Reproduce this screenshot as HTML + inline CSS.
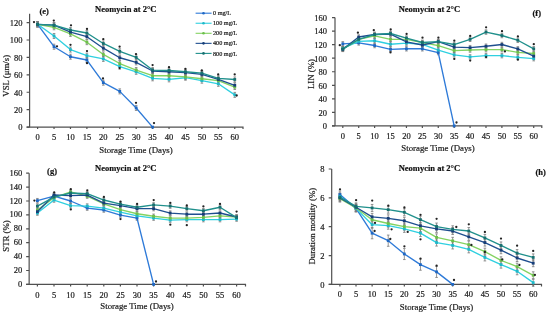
<!DOCTYPE html>
<html><head><meta charset="utf-8"><style>
html,body{margin:0;padding:0;background:#fff;}
svg{display:block;will-change:transform;filter:blur(0.3px);}
text{font-family:"Liberation Serif", serif;fill:#1a1a1a;stroke:#1a1a1a;stroke-width:0.2px;}
.tl{font-size:8.5px;}
.at{font-size:8.8px;}
.ti{font-size:8.5px;font-weight:bold;fill:#111;}
.lg{font-size:6.2px;}
</style></head><body>
<svg width="550" height="315" viewBox="0 0 550 315">
<rect width="550" height="315" fill="#fff"/>
<path d="M29.6 13.87V127.1M26.6 127.1H243.0v2" stroke="#505050" stroke-width="1.2" fill="none"/>
<text x="22.5" y="130.40" text-anchor="end" class="tl">0</text>
<text x="22.5" y="112.98" text-anchor="end" class="tl">20</text>
<text x="22.5" y="95.56" text-anchor="end" class="tl">40</text>
<text x="22.5" y="78.14" text-anchor="end" class="tl">60</text>
<text x="22.5" y="60.72" text-anchor="end" class="tl">80</text>
<text x="22.5" y="43.30" text-anchor="end" class="tl">100</text>
<text x="22.5" y="25.88" text-anchor="end" class="tl">120</text>
<text x="37.60" y="140" text-anchor="middle" class="tl">0</text>
<text x="54.03" y="140" text-anchor="middle" class="tl">5</text>
<text x="70.46" y="140" text-anchor="middle" class="tl">10</text>
<text x="86.89" y="140" text-anchor="middle" class="tl">15</text>
<text x="103.32" y="140" text-anchor="middle" class="tl">20</text>
<text x="119.75" y="140" text-anchor="middle" class="tl">25</text>
<text x="136.18" y="140" text-anchor="middle" class="tl">30</text>
<text x="152.61" y="140" text-anchor="middle" class="tl">35</text>
<text x="169.04" y="140" text-anchor="middle" class="tl">40</text>
<text x="185.47" y="140" text-anchor="middle" class="tl">45</text>
<text x="201.90" y="140" text-anchor="middle" class="tl">50</text>
<text x="218.33" y="140" text-anchor="middle" class="tl">55</text>
<text x="234.76" y="140" text-anchor="middle" class="tl">60</text>
<path d="M26.6 127.10H29.6M26.6 109.68H29.6M26.6 92.26H29.6M26.6 74.84H29.6M26.6 57.42H29.6M26.6 40.00H29.6M26.6 22.58H29.6M37.60 127.1V129.1M54.03 127.1V129.1M70.46 127.1V129.1M86.89 127.1V129.1M103.32 127.1V129.1M119.75 127.1V129.1M136.18 127.1V129.1M152.61 127.1V129.1M169.04 127.1V129.1M185.47 127.1V129.1M201.90 127.1V129.1M218.33 127.1V129.1M234.76 127.1V129.1" stroke="#505050" stroke-width="1.2" fill="none"/>
<path d="M37.60 21.82V26.82M36.30 21.82h2.6M36.30 26.82h2.6M54.03 44.21V49.21M52.73 44.21h2.6M52.73 49.21h2.6M70.46 54.22V59.22M69.16 54.22h2.6M69.16 59.22h2.6M86.89 57.53V62.53M85.59 57.53h2.6M85.59 62.53h2.6M103.32 80.18V85.18M102.02 80.18h2.6M102.02 85.18h2.6M119.75 88.89V93.89M118.45 88.89h2.6M118.45 93.89h2.6M136.18 105.44V110.44M134.88 105.44h2.6M134.88 110.44h2.6M37.60 21.82V26.82M36.30 21.82h2.6M36.30 26.82h2.6M54.03 33.49V38.49M52.73 33.49h2.6M52.73 38.49h2.6M70.46 47.08V52.08M69.16 47.08h2.6M69.16 52.08h2.6M86.89 53.18V58.18M85.59 53.18h2.6M85.59 58.18h2.6M103.32 56.40V61.40M102.02 56.40h2.6M102.02 61.40h2.6M119.75 64.15V69.15M118.45 64.15h2.6M118.45 69.15h2.6M136.18 69.29V74.29M134.88 69.29h2.6M134.88 74.29h2.6M152.61 75.82V80.82M151.31 75.82h2.6M151.31 80.82h2.6M169.04 76.87V81.87M167.74 76.87h2.6M167.74 81.87h2.6M185.47 75.21V80.21M184.17 75.21h2.6M184.17 80.21h2.6M201.90 78.18V83.18M200.60 78.18h2.6M200.60 83.18h2.6M218.33 81.31V86.31M217.03 81.31h2.6M217.03 86.31h2.6M234.76 92.37V97.37M233.46 92.37h2.6M233.46 97.37h2.6M37.60 21.82V26.82M36.30 21.82h2.6M36.30 26.82h2.6M54.03 24.78V29.78M52.73 24.78h2.6M52.73 29.78h2.6M70.46 31.40V36.40M69.16 31.40h2.6M69.16 36.40h2.6M86.89 39.68V44.68M85.59 39.68h2.6M85.59 44.68h2.6M103.32 51.96V56.96M102.02 51.96h2.6M102.02 56.96h2.6M119.75 61.02V66.02M118.45 61.02h2.6M118.45 66.02h2.6M136.18 67.55V72.55M134.88 67.55h2.6M134.88 72.55h2.6M152.61 73.21V78.21M151.31 73.21h2.6M151.31 78.21h2.6M169.04 73.21V78.21M167.74 73.21h2.6M167.74 78.21h2.6M185.47 74.43V79.43M184.17 74.43h2.6M184.17 79.43h2.6M201.90 76.26V81.26M200.60 76.26h2.6M200.60 81.26h2.6M218.33 78.18V83.18M217.03 78.18h2.6M217.03 83.18h2.6M234.76 84.53V89.53M233.46 84.53h2.6M233.46 89.53h2.6M37.60 21.82V26.82M36.30 21.82h2.6M36.30 26.82h2.6M54.03 22.69V27.69M52.73 22.69h2.6M52.73 27.69h2.6M70.46 29.66V34.66M69.16 29.66h2.6M69.16 34.66h2.6M86.89 34.19V39.19M85.59 34.19h2.6M85.59 39.19h2.6M103.32 45.69V50.69M102.02 45.69h2.6M102.02 50.69h2.6M119.75 55.27V60.27M118.45 55.27h2.6M118.45 60.27h2.6M136.18 59.88V64.88M134.88 59.88h2.6M134.88 64.88h2.6M152.61 68.51V73.51M151.31 68.51h2.6M151.31 73.51h2.6M169.04 69.29V74.29M167.74 69.29h2.6M167.74 74.29h2.6M185.47 70.16V75.16M184.17 70.16h2.6M184.17 75.16h2.6M201.90 71.90V76.90M200.60 71.90h2.6M200.60 76.90h2.6M218.33 76.96V81.96M217.03 76.96h2.6M217.03 81.96h2.6M234.76 82.79V87.79M233.46 82.79h2.6M233.46 87.79h2.6M37.60 21.82V26.82M36.30 21.82h2.6M36.30 26.82h2.6M54.03 22.69V27.69M52.73 22.69h2.6M52.73 27.69h2.6M70.46 27.48V32.48M69.16 27.48h2.6M69.16 32.48h2.6M86.89 30.53V35.53M85.59 30.53h2.6M85.59 35.53h2.6M103.32 40.98V45.98M102.02 40.98h2.6M102.02 45.98h2.6M119.75 48.82V53.82M118.45 48.82h2.6M118.45 53.82h2.6M136.18 54.92V59.92M134.88 54.92h2.6M134.88 59.92h2.6M152.61 67.55V72.55M151.31 67.55h2.6M151.31 72.55h2.6M169.04 67.98V72.98M167.74 67.98h2.6M167.74 72.98h2.6M185.47 69.29V74.29M184.17 69.29h2.6M184.17 74.29h2.6M201.90 70.60V75.60M200.60 70.60h2.6M200.60 75.60h2.6M218.33 75.82V80.82M217.03 75.82h2.6M217.03 80.82h2.6M234.76 76.96V81.96M233.46 76.96h2.6M233.46 81.96h2.6" stroke="#7a7a7a" stroke-width="0.8" fill="none"/>
<polyline points="37.60,24.32 54.03,46.71 70.46,56.72 86.89,60.03 103.32,82.68 119.75,91.39 136.18,107.94 152.61,127.10" stroke="#2e7ad8" stroke-width="1.35" fill="none" stroke-linejoin="round"/>
<rect x="36.20" y="22.92" width="2.8" height="2.8" fill="#1f68c4"/>
<rect x="52.63" y="45.31" width="2.8" height="2.8" fill="#1f68c4"/>
<rect x="69.06" y="55.32" width="2.8" height="2.8" fill="#1f68c4"/>
<rect x="85.49" y="58.63" width="2.8" height="2.8" fill="#1f68c4"/>
<rect x="101.92" y="81.28" width="2.8" height="2.8" fill="#1f68c4"/>
<rect x="118.35" y="89.99" width="2.8" height="2.8" fill="#1f68c4"/>
<rect x="134.78" y="106.54" width="2.8" height="2.8" fill="#1f68c4"/>
<rect x="151.21" y="125.70" width="2.8" height="2.8" fill="#1f68c4"/>
<polyline points="37.60,24.32 54.03,35.99 70.46,49.58 86.89,55.68 103.32,58.90 119.75,66.65 136.18,71.79 152.61,78.32 169.04,79.37 185.47,77.71 201.90,80.68 218.33,83.81 234.76,94.87" stroke="#2fd0e0" stroke-width="1.35" fill="none" stroke-linejoin="round"/>
<rect x="36.20" y="22.92" width="2.8" height="2.8" fill="#1fb8c8"/>
<rect x="52.63" y="34.59" width="2.8" height="2.8" fill="#1fb8c8"/>
<rect x="69.06" y="48.18" width="2.8" height="2.8" fill="#1fb8c8"/>
<rect x="85.49" y="54.28" width="2.8" height="2.8" fill="#1fb8c8"/>
<rect x="101.92" y="57.50" width="2.8" height="2.8" fill="#1fb8c8"/>
<rect x="118.35" y="65.25" width="2.8" height="2.8" fill="#1fb8c8"/>
<rect x="134.78" y="70.39" width="2.8" height="2.8" fill="#1fb8c8"/>
<rect x="151.21" y="76.92" width="2.8" height="2.8" fill="#1fb8c8"/>
<rect x="167.64" y="77.97" width="2.8" height="2.8" fill="#1fb8c8"/>
<rect x="184.07" y="76.31" width="2.8" height="2.8" fill="#1fb8c8"/>
<rect x="200.50" y="79.28" width="2.8" height="2.8" fill="#1fb8c8"/>
<rect x="216.93" y="82.41" width="2.8" height="2.8" fill="#1fb8c8"/>
<rect x="233.36" y="93.47" width="2.8" height="2.8" fill="#1fb8c8"/>
<polyline points="37.60,24.32 54.03,27.28 70.46,33.90 86.89,42.18 103.32,54.46 119.75,63.52 136.18,70.05 152.61,75.71 169.04,75.71 185.47,76.93 201.90,78.76 218.33,80.68 234.76,87.03" stroke="#84d262" stroke-width="1.35" fill="none" stroke-linejoin="round"/>
<rect x="36.20" y="22.92" width="2.8" height="2.8" fill="#6cbf4a"/>
<rect x="52.63" y="25.88" width="2.8" height="2.8" fill="#6cbf4a"/>
<rect x="69.06" y="32.50" width="2.8" height="2.8" fill="#6cbf4a"/>
<rect x="85.49" y="40.78" width="2.8" height="2.8" fill="#6cbf4a"/>
<rect x="101.92" y="53.06" width="2.8" height="2.8" fill="#6cbf4a"/>
<rect x="118.35" y="62.12" width="2.8" height="2.8" fill="#6cbf4a"/>
<rect x="134.78" y="68.65" width="2.8" height="2.8" fill="#6cbf4a"/>
<rect x="151.21" y="74.31" width="2.8" height="2.8" fill="#6cbf4a"/>
<rect x="167.64" y="74.31" width="2.8" height="2.8" fill="#6cbf4a"/>
<rect x="184.07" y="75.53" width="2.8" height="2.8" fill="#6cbf4a"/>
<rect x="200.50" y="77.36" width="2.8" height="2.8" fill="#6cbf4a"/>
<rect x="216.93" y="79.28" width="2.8" height="2.8" fill="#6cbf4a"/>
<rect x="233.36" y="85.63" width="2.8" height="2.8" fill="#6cbf4a"/>
<polyline points="37.60,24.32 54.03,25.19 70.46,32.16 86.89,36.69 103.32,48.19 119.75,57.77 136.18,62.38 152.61,71.01 169.04,71.79 185.47,72.66 201.90,74.40 218.33,79.46 234.76,85.29" stroke="#1f4f8f" stroke-width="1.35" fill="none" stroke-linejoin="round"/>
<rect x="36.20" y="22.92" width="2.8" height="2.8" fill="#173e78"/>
<rect x="52.63" y="23.79" width="2.8" height="2.8" fill="#173e78"/>
<rect x="69.06" y="30.76" width="2.8" height="2.8" fill="#173e78"/>
<rect x="85.49" y="35.29" width="2.8" height="2.8" fill="#173e78"/>
<rect x="101.92" y="46.79" width="2.8" height="2.8" fill="#173e78"/>
<rect x="118.35" y="56.37" width="2.8" height="2.8" fill="#173e78"/>
<rect x="134.78" y="60.98" width="2.8" height="2.8" fill="#173e78"/>
<rect x="151.21" y="69.61" width="2.8" height="2.8" fill="#173e78"/>
<rect x="167.64" y="70.39" width="2.8" height="2.8" fill="#173e78"/>
<rect x="184.07" y="71.26" width="2.8" height="2.8" fill="#173e78"/>
<rect x="200.50" y="73.00" width="2.8" height="2.8" fill="#173e78"/>
<rect x="216.93" y="78.06" width="2.8" height="2.8" fill="#173e78"/>
<rect x="233.36" y="83.89" width="2.8" height="2.8" fill="#173e78"/>
<polyline points="37.60,24.32 54.03,25.19 70.46,29.98 86.89,33.03 103.32,43.48 119.75,51.32 136.18,57.42 152.61,70.05 169.04,70.48 185.47,71.79 201.90,73.10 218.33,78.32 234.76,79.46" stroke="#20908c" stroke-width="1.35" fill="none" stroke-linejoin="round"/>
<rect x="36.20" y="22.92" width="2.8" height="2.8" fill="#176f6f"/>
<rect x="52.63" y="23.79" width="2.8" height="2.8" fill="#176f6f"/>
<rect x="69.06" y="28.58" width="2.8" height="2.8" fill="#176f6f"/>
<rect x="85.49" y="31.63" width="2.8" height="2.8" fill="#176f6f"/>
<rect x="101.92" y="42.08" width="2.8" height="2.8" fill="#176f6f"/>
<rect x="118.35" y="49.92" width="2.8" height="2.8" fill="#176f6f"/>
<rect x="134.78" y="56.02" width="2.8" height="2.8" fill="#176f6f"/>
<rect x="151.21" y="68.65" width="2.8" height="2.8" fill="#176f6f"/>
<rect x="167.64" y="69.08" width="2.8" height="2.8" fill="#176f6f"/>
<rect x="184.07" y="70.39" width="2.8" height="2.8" fill="#176f6f"/>
<rect x="200.50" y="71.70" width="2.8" height="2.8" fill="#176f6f"/>
<rect x="216.93" y="76.92" width="2.8" height="2.8" fill="#176f6f"/>
<rect x="233.36" y="78.06" width="2.8" height="2.8" fill="#176f6f"/>
<circle cx="34" cy="22.1" r="1.15" fill="#222"/>
<circle cx="53.8" cy="20.6" r="1.15" fill="#222"/>
<circle cx="57" cy="46.3" r="1.15" fill="#222"/>
<circle cx="71" cy="25.3" r="1.15" fill="#222"/>
<circle cx="70.5" cy="44.8" r="1.15" fill="#222"/>
<circle cx="87" cy="28.9" r="1.15" fill="#222"/>
<circle cx="87" cy="51.1" r="1.15" fill="#222"/>
<circle cx="87" cy="63.2" r="1.15" fill="#222"/>
<circle cx="103.3" cy="39.2" r="1.15" fill="#222"/>
<circle cx="103" cy="78.4" r="1.15" fill="#222"/>
<circle cx="119.6" cy="46.7" r="1.15" fill="#222"/>
<circle cx="119.6" cy="68.1" r="1.15" fill="#222"/>
<circle cx="136" cy="54.1" r="1.15" fill="#222"/>
<circle cx="136" cy="102.8" r="1.15" fill="#222"/>
<circle cx="152.6" cy="65.1" r="1.15" fill="#222"/>
<circle cx="154" cy="123.1" r="1.15" fill="#222"/>
<circle cx="169" cy="67.2" r="1.15" fill="#222"/>
<circle cx="185.4" cy="68.8" r="1.15" fill="#222"/>
<circle cx="201.8" cy="70.4" r="1.15" fill="#222"/>
<circle cx="218.2" cy="74.4" r="1.15" fill="#222"/>
<circle cx="234.7" cy="74.4" r="1.15" fill="#222"/>
<circle cx="236.7" cy="95.5" r="1.15" fill="#222"/>
<text x="95" y="12.3" class="ti">Neomycin at 2°C</text>
<text x="39.5" y="13.6" class="ti">(e)</text>
<text transform="translate(9.0,75.8) rotate(-90)" text-anchor="middle" class="at">VSL (μm/s)</text>
<text x="136" y="152.5" text-anchor="middle" class="at">Storage Time (Days)</text>
<path d="M335.0 17.58V125.9M332.0 125.9H541.8v2" stroke="#505050" stroke-width="1.2" fill="none"/>
<text x="327" y="129.20" text-anchor="end" class="tl">0</text>
<text x="327" y="115.66" text-anchor="end" class="tl">20</text>
<text x="327" y="102.12" text-anchor="end" class="tl">40</text>
<text x="327" y="88.58" text-anchor="end" class="tl">60</text>
<text x="327" y="75.04" text-anchor="end" class="tl">80</text>
<text x="327" y="61.50" text-anchor="end" class="tl">100</text>
<text x="327" y="47.96" text-anchor="end" class="tl">120</text>
<text x="327" y="34.42" text-anchor="end" class="tl">140</text>
<text x="327" y="20.88" text-anchor="end" class="tl">160</text>
<text x="342.80" y="139.2" text-anchor="middle" class="tl">0</text>
<text x="358.71" y="139.2" text-anchor="middle" class="tl">5</text>
<text x="374.62" y="139.2" text-anchor="middle" class="tl">10</text>
<text x="390.53" y="139.2" text-anchor="middle" class="tl">15</text>
<text x="406.44" y="139.2" text-anchor="middle" class="tl">20</text>
<text x="422.35" y="139.2" text-anchor="middle" class="tl">25</text>
<text x="438.26" y="139.2" text-anchor="middle" class="tl">30</text>
<text x="454.17" y="139.2" text-anchor="middle" class="tl">35</text>
<text x="470.08" y="139.2" text-anchor="middle" class="tl">40</text>
<text x="485.99" y="139.2" text-anchor="middle" class="tl">45</text>
<text x="501.90" y="139.2" text-anchor="middle" class="tl">50</text>
<text x="517.81" y="139.2" text-anchor="middle" class="tl">55</text>
<text x="533.72" y="139.2" text-anchor="middle" class="tl">60</text>
<path d="M332.0 125.90H335.0M332.0 112.36H335.0M332.0 98.82H335.0M332.0 85.28H335.0M332.0 71.74H335.0M332.0 58.20H335.0M332.0 44.66H335.0M332.0 31.12H335.0M332.0 17.58H335.0M342.80 125.9V127.9M358.71 125.9V127.9M374.62 125.9V127.9M390.53 125.9V127.9M406.44 125.9V127.9M422.35 125.9V127.9M438.26 125.9V127.9M454.17 125.9V127.9M470.08 125.9V127.9M485.99 125.9V127.9M501.90 125.9V127.9M517.81 125.9V127.9M533.72 125.9V127.9" stroke="#505050" stroke-width="1.2" fill="none"/>
<path d="M342.80 41.65V46.05M341.50 41.65h2.6M341.50 46.05h2.6M358.71 40.70V45.10M357.41 40.70h2.6M357.41 45.10h2.6M374.62 43.34V47.74M373.32 43.34h2.6M373.32 47.74h2.6M390.53 47.13V51.53M389.23 47.13h2.6M389.23 51.53h2.6M406.44 46.59V50.99M405.14 46.59h2.6M405.14 50.99h2.6M422.35 46.59V50.99M421.05 46.59h2.6M421.05 50.99h2.6M438.26 50.38V54.78M436.96 50.38h2.6M436.96 54.78h2.6M342.80 46.18V50.58M341.50 46.18h2.6M341.50 50.58h2.6M358.71 39.14V43.54M357.41 39.14h2.6M357.41 43.54h2.6M374.62 38.53V42.93M373.32 38.53h2.6M373.32 42.93h2.6M390.53 42.05V46.45M389.23 42.05h2.6M389.23 46.45h2.6M406.44 40.90V45.30M405.14 40.90h2.6M405.14 45.30h2.6M422.35 42.12V46.52M421.05 42.12h2.6M421.05 46.52h2.6M438.26 47.88V52.28M436.96 47.88h2.6M436.96 52.28h2.6M454.17 52.61V57.02M452.87 52.61h2.6M452.87 57.02h2.6M470.08 54.71V59.11M468.78 54.71h2.6M468.78 59.11h2.6M485.99 53.43V57.83M484.69 53.43h2.6M484.69 57.83h2.6M501.90 53.43V57.83M500.60 53.43h2.6M500.60 57.83h2.6M517.81 55.19V59.59M516.51 55.19h2.6M516.51 59.59h2.6M533.72 56.47V60.87M532.42 56.47h2.6M532.42 60.87h2.6M342.80 46.86V51.26M341.50 46.86h2.6M341.50 51.26h2.6M358.71 37.25V41.65M357.41 37.25h2.6M357.41 41.65h2.6M374.62 33.66V38.06M373.32 33.66h2.6M373.32 38.06h2.6M390.53 37.11V41.51M389.23 37.11h2.6M389.23 41.51h2.6M406.44 37.11V41.51M405.14 37.11h2.6M405.14 41.51h2.6M422.35 40.29V44.69M421.05 40.29h2.6M421.05 44.69h2.6M438.26 43.41V47.81M436.96 43.41h2.6M436.96 47.81h2.6M454.17 48.35V52.75M452.87 48.35h2.6M452.87 52.75h2.6M470.08 47.81V52.21M468.78 47.81h2.6M468.78 52.21h2.6M485.99 47.47V51.87M484.69 47.47h2.6M484.69 51.87h2.6M501.90 47.47V51.87M500.60 47.47h2.6M500.60 51.87h2.6M517.81 50.11V54.51M516.51 50.11h2.6M516.51 54.51h2.6M533.72 51.26V55.66M532.42 51.26h2.6M532.42 55.66h2.6M342.80 47.20V51.60M341.50 47.20h2.6M341.50 51.60h2.6M358.71 34.81V39.21M357.41 34.81h2.6M357.41 39.21h2.6M374.62 32.30V36.70M373.32 32.30h2.6M373.32 36.70h2.6M390.53 31.83V36.23M389.23 31.83h2.6M389.23 36.23h2.6M406.44 39.62V44.02M405.14 39.62h2.6M405.14 44.02h2.6M422.35 42.80V47.20M421.05 42.80h2.6M421.05 47.20h2.6M438.26 39.41V43.81M436.96 39.41h2.6M436.96 43.81h2.6M454.17 44.90V49.30M452.87 44.90h2.6M452.87 49.30h2.6M470.08 45.44V49.84M468.78 45.44h2.6M468.78 49.84h2.6M485.99 44.02V48.42M484.69 44.02h2.6M484.69 48.42h2.6M501.90 42.32V46.72M500.60 42.32h2.6M500.60 46.72h2.6M517.81 46.66V51.06M516.51 46.66h2.6M516.51 51.06h2.6M533.72 53.97V58.37M532.42 53.97h2.6M532.42 58.37h2.6M342.80 46.73V51.13M341.50 46.73h2.6M341.50 51.13h2.6M358.71 37.11V41.51M357.41 37.11h2.6M357.41 41.51h2.6M374.62 32.30V36.70M373.32 32.30h2.6M373.32 36.70h2.6M390.53 31.29V35.69M389.23 31.29h2.6M389.23 35.69h2.6M406.44 35.83V40.23M405.14 35.83h2.6M405.14 40.23h2.6M422.35 40.29V44.69M421.05 40.29h2.6M421.05 44.69h2.6M438.26 39.41V43.81M436.96 39.41h2.6M436.96 43.81h2.6M454.17 42.32V46.72M452.87 42.32h2.6M452.87 46.72h2.6M470.08 37.11V41.51M468.78 37.11h2.6M468.78 41.51h2.6M485.99 29.87V34.27M484.69 29.87h2.6M484.69 34.27h2.6M501.90 33.32V37.72M500.60 33.32h2.6M500.60 37.72h2.6M517.81 38.06V42.46M516.51 38.06h2.6M516.51 42.46h2.6M533.72 46.59V50.99M532.42 46.59h2.6M532.42 50.99h2.6" stroke="#7a7a7a" stroke-width="0.8" fill="none"/>
<polyline points="342.80,43.85 358.71,42.90 374.62,45.54 390.53,49.33 406.44,48.79 422.35,48.79 438.26,52.58 454.17,125.90" stroke="#2e7ad8" stroke-width="1.35" fill="none" stroke-linejoin="round"/>
<rect x="341.40" y="42.45" width="2.8" height="2.8" fill="#1f68c4"/>
<rect x="357.31" y="41.50" width="2.8" height="2.8" fill="#1f68c4"/>
<rect x="373.22" y="44.14" width="2.8" height="2.8" fill="#1f68c4"/>
<rect x="389.13" y="47.93" width="2.8" height="2.8" fill="#1f68c4"/>
<rect x="405.04" y="47.39" width="2.8" height="2.8" fill="#1f68c4"/>
<rect x="420.95" y="47.39" width="2.8" height="2.8" fill="#1f68c4"/>
<rect x="436.86" y="51.18" width="2.8" height="2.8" fill="#1f68c4"/>
<rect x="452.77" y="124.50" width="2.8" height="2.8" fill="#1f68c4"/>
<polyline points="342.80,48.38 358.71,41.34 374.62,40.73 390.53,44.25 406.44,43.10 422.35,44.32 438.26,50.08 454.17,54.81 470.08,56.91 485.99,55.63 501.90,55.63 517.81,57.39 533.72,58.67" stroke="#2fd0e0" stroke-width="1.35" fill="none" stroke-linejoin="round"/>
<rect x="341.40" y="46.98" width="2.8" height="2.8" fill="#1fb8c8"/>
<rect x="357.31" y="39.94" width="2.8" height="2.8" fill="#1fb8c8"/>
<rect x="373.22" y="39.33" width="2.8" height="2.8" fill="#1fb8c8"/>
<rect x="389.13" y="42.85" width="2.8" height="2.8" fill="#1fb8c8"/>
<rect x="405.04" y="41.70" width="2.8" height="2.8" fill="#1fb8c8"/>
<rect x="420.95" y="42.92" width="2.8" height="2.8" fill="#1fb8c8"/>
<rect x="436.86" y="48.68" width="2.8" height="2.8" fill="#1fb8c8"/>
<rect x="452.77" y="53.41" width="2.8" height="2.8" fill="#1fb8c8"/>
<rect x="468.68" y="55.51" width="2.8" height="2.8" fill="#1fb8c8"/>
<rect x="484.59" y="54.23" width="2.8" height="2.8" fill="#1fb8c8"/>
<rect x="500.50" y="54.23" width="2.8" height="2.8" fill="#1fb8c8"/>
<rect x="516.41" y="55.99" width="2.8" height="2.8" fill="#1fb8c8"/>
<rect x="532.32" y="57.27" width="2.8" height="2.8" fill="#1fb8c8"/>
<polyline points="342.80,49.06 358.71,39.45 374.62,35.86 390.53,39.31 406.44,39.31 422.35,42.49 438.26,45.61 454.17,50.55 470.08,50.01 485.99,49.67 501.90,49.67 517.81,52.31 533.72,53.46" stroke="#84d262" stroke-width="1.35" fill="none" stroke-linejoin="round"/>
<rect x="341.40" y="47.66" width="2.8" height="2.8" fill="#6cbf4a"/>
<rect x="357.31" y="38.05" width="2.8" height="2.8" fill="#6cbf4a"/>
<rect x="373.22" y="34.46" width="2.8" height="2.8" fill="#6cbf4a"/>
<rect x="389.13" y="37.91" width="2.8" height="2.8" fill="#6cbf4a"/>
<rect x="405.04" y="37.91" width="2.8" height="2.8" fill="#6cbf4a"/>
<rect x="420.95" y="41.09" width="2.8" height="2.8" fill="#6cbf4a"/>
<rect x="436.86" y="44.21" width="2.8" height="2.8" fill="#6cbf4a"/>
<rect x="452.77" y="49.15" width="2.8" height="2.8" fill="#6cbf4a"/>
<rect x="468.68" y="48.61" width="2.8" height="2.8" fill="#6cbf4a"/>
<rect x="484.59" y="48.27" width="2.8" height="2.8" fill="#6cbf4a"/>
<rect x="500.50" y="48.27" width="2.8" height="2.8" fill="#6cbf4a"/>
<rect x="516.41" y="50.91" width="2.8" height="2.8" fill="#6cbf4a"/>
<rect x="532.32" y="52.06" width="2.8" height="2.8" fill="#6cbf4a"/>
<polyline points="342.80,49.40 358.71,37.01 374.62,34.50 390.53,34.03 406.44,41.82 422.35,45.00 438.26,41.61 454.17,47.10 470.08,47.64 485.99,46.22 501.90,44.52 517.81,48.86 533.72,56.17" stroke="#1f4f8f" stroke-width="1.35" fill="none" stroke-linejoin="round"/>
<rect x="341.40" y="48.00" width="2.8" height="2.8" fill="#173e78"/>
<rect x="357.31" y="35.61" width="2.8" height="2.8" fill="#173e78"/>
<rect x="373.22" y="33.10" width="2.8" height="2.8" fill="#173e78"/>
<rect x="389.13" y="32.63" width="2.8" height="2.8" fill="#173e78"/>
<rect x="405.04" y="40.42" width="2.8" height="2.8" fill="#173e78"/>
<rect x="420.95" y="43.60" width="2.8" height="2.8" fill="#173e78"/>
<rect x="436.86" y="40.21" width="2.8" height="2.8" fill="#173e78"/>
<rect x="452.77" y="45.70" width="2.8" height="2.8" fill="#173e78"/>
<rect x="468.68" y="46.24" width="2.8" height="2.8" fill="#173e78"/>
<rect x="484.59" y="44.82" width="2.8" height="2.8" fill="#173e78"/>
<rect x="500.50" y="43.12" width="2.8" height="2.8" fill="#173e78"/>
<rect x="516.41" y="47.46" width="2.8" height="2.8" fill="#173e78"/>
<rect x="532.32" y="54.77" width="2.8" height="2.8" fill="#173e78"/>
<polyline points="342.80,48.93 358.71,39.31 374.62,34.50 390.53,33.49 406.44,38.03 422.35,42.49 438.26,41.61 454.17,44.52 470.08,39.31 485.99,32.07 501.90,35.52 517.81,40.26 533.72,48.79" stroke="#20908c" stroke-width="1.35" fill="none" stroke-linejoin="round"/>
<rect x="341.40" y="47.53" width="2.8" height="2.8" fill="#176f6f"/>
<rect x="357.31" y="37.91" width="2.8" height="2.8" fill="#176f6f"/>
<rect x="373.22" y="33.10" width="2.8" height="2.8" fill="#176f6f"/>
<rect x="389.13" y="32.09" width="2.8" height="2.8" fill="#176f6f"/>
<rect x="405.04" y="36.63" width="2.8" height="2.8" fill="#176f6f"/>
<rect x="420.95" y="41.09" width="2.8" height="2.8" fill="#176f6f"/>
<rect x="436.86" y="40.21" width="2.8" height="2.8" fill="#176f6f"/>
<rect x="452.77" y="43.12" width="2.8" height="2.8" fill="#176f6f"/>
<rect x="468.68" y="37.91" width="2.8" height="2.8" fill="#176f6f"/>
<rect x="484.59" y="30.67" width="2.8" height="2.8" fill="#176f6f"/>
<rect x="500.50" y="34.12" width="2.8" height="2.8" fill="#176f6f"/>
<rect x="516.41" y="38.86" width="2.8" height="2.8" fill="#176f6f"/>
<rect x="532.32" y="47.39" width="2.8" height="2.8" fill="#176f6f"/>
<circle cx="339.8" cy="45.2" r="1.15" fill="#222"/>
<circle cx="357.9" cy="32.7" r="1.15" fill="#222"/>
<circle cx="373.8" cy="30.2" r="1.15" fill="#222"/>
<circle cx="390.7" cy="29.5" r="1.15" fill="#222"/>
<circle cx="390.5" cy="52.4" r="1.15" fill="#222"/>
<circle cx="406.6" cy="33.9" r="1.15" fill="#222"/>
<circle cx="422.5" cy="37.7" r="1.15" fill="#222"/>
<circle cx="438.4" cy="37.7" r="1.15" fill="#222"/>
<circle cx="454.3" cy="40.7" r="1.15" fill="#222"/>
<circle cx="454.3" cy="58.9" r="1.15" fill="#222"/>
<circle cx="470.2" cy="35.9" r="1.15" fill="#222"/>
<circle cx="470.2" cy="60.6" r="1.15" fill="#222"/>
<circle cx="486.1" cy="27.3" r="1.15" fill="#222"/>
<circle cx="486.1" cy="57.1" r="1.15" fill="#222"/>
<circle cx="502" cy="31.2" r="1.15" fill="#222"/>
<circle cx="504.9" cy="51.4" r="1.15" fill="#222"/>
<circle cx="517.9" cy="36.4" r="1.15" fill="#222"/>
<circle cx="517.9" cy="59.7" r="1.15" fill="#222"/>
<circle cx="533.8" cy="44.2" r="1.15" fill="#222"/>
<circle cx="456.5" cy="122.5" r="1.15" fill="#222"/>
<text x="398.7" y="11.9" class="ti">Neomycin at 2°C</text>
<text x="532.5" y="16.3" class="ti">(f)</text>
<text transform="translate(313.8,74) rotate(-90)" text-anchor="middle" class="at">LIN (%)</text>
<text x="438" y="151.4" text-anchor="middle" class="at">Storage Time (Days)</text>
<path d="M29.15 173.20V284.4M26.15 284.4H245.5v2" stroke="#505050" stroke-width="1.2" fill="none"/>
<text x="22.2" y="286.90" text-anchor="end" class="tl">0</text>
<text x="22.2" y="273.00" text-anchor="end" class="tl">20</text>
<text x="22.2" y="259.10" text-anchor="end" class="tl">40</text>
<text x="22.2" y="245.20" text-anchor="end" class="tl">60</text>
<text x="22.2" y="231.30" text-anchor="end" class="tl">80</text>
<text x="22.2" y="217.40" text-anchor="end" class="tl">100</text>
<text x="22.2" y="203.50" text-anchor="end" class="tl">120</text>
<text x="22.2" y="189.60" text-anchor="end" class="tl">140</text>
<text x="22.2" y="175.70" text-anchor="end" class="tl">160</text>
<text x="37.40" y="297.8" text-anchor="middle" class="tl">0</text>
<text x="54.00" y="297.8" text-anchor="middle" class="tl">5</text>
<text x="70.60" y="297.8" text-anchor="middle" class="tl">10</text>
<text x="87.20" y="297.8" text-anchor="middle" class="tl">15</text>
<text x="103.80" y="297.8" text-anchor="middle" class="tl">20</text>
<text x="120.40" y="297.8" text-anchor="middle" class="tl">25</text>
<text x="137.00" y="297.8" text-anchor="middle" class="tl">30</text>
<text x="153.60" y="297.8" text-anchor="middle" class="tl">35</text>
<text x="170.20" y="297.8" text-anchor="middle" class="tl">40</text>
<text x="186.80" y="297.8" text-anchor="middle" class="tl">45</text>
<text x="203.40" y="297.8" text-anchor="middle" class="tl">50</text>
<text x="220.00" y="297.8" text-anchor="middle" class="tl">55</text>
<text x="236.60" y="297.8" text-anchor="middle" class="tl">60</text>
<path d="M26.15 284.40H29.15M26.15 270.50H29.15M26.15 256.60H29.15M26.15 242.70H29.15M26.15 228.80H29.15M26.15 214.90H29.15M26.15 201.00H29.15M26.15 187.10H29.15M26.15 173.20H29.15M37.40 284.4V286.4M54.00 284.4V286.4M70.60 284.4V286.4M87.20 284.4V286.4M103.80 284.4V286.4M120.40 284.4V286.4M137.00 284.4V286.4M153.60 284.4V286.4M170.20 284.4V286.4M186.80 284.4V286.4M203.40 284.4V286.4M220.00 284.4V286.4M236.60 284.4V286.4" stroke="#505050" stroke-width="1.2" fill="none"/>
<path d="M37.40 198.45V202.85M36.10 198.45h2.6M36.10 202.85h2.6M54.00 193.94V198.33M52.70 193.94h2.6M52.70 198.33h2.6M70.60 198.80V203.20M69.30 198.80h2.6M69.30 203.20h2.6M87.20 205.89V210.29M85.90 205.89h2.6M85.90 210.29h2.6M103.80 207.83V212.23M102.50 207.83h2.6M102.50 212.23h2.6M120.40 212.91V217.31M119.10 212.91h2.6M119.10 217.31h2.6M137.00 215.90V220.30M135.70 215.90h2.6M135.70 220.30h2.6M37.40 210.89V215.29M36.10 210.89h2.6M36.10 215.29h2.6M54.00 197.83V202.23M52.70 197.83h2.6M52.70 202.23h2.6M70.60 203.46V207.86M69.30 203.46h2.6M69.30 207.86h2.6M87.20 203.87V208.27M85.90 203.87h2.6M85.90 208.27h2.6M103.80 205.89V210.29M102.50 205.89h2.6M102.50 210.29h2.6M120.40 209.92V214.32M119.10 209.92h2.6M119.10 214.32h2.6M137.00 213.60V218.00M135.70 213.60h2.6M135.70 218.00h2.6M153.60 215.90V220.30M152.30 215.90h2.6M152.30 220.30h2.6M170.20 217.91V222.31M168.90 217.91h2.6M168.90 222.31h2.6M186.80 217.43V221.83M185.50 217.43h2.6M185.50 221.83h2.6M203.40 217.43V221.83M202.10 217.43h2.6M202.10 221.83h2.6M220.00 217.43V221.83M218.70 217.43h2.6M218.70 221.83h2.6M236.60 216.87V221.27M235.30 216.87h2.6M235.30 221.27h2.6M37.40 207.83V212.23M36.10 207.83h2.6M36.10 212.23h2.6M54.00 195.39V199.79M52.70 195.39h2.6M52.70 199.79h2.6M70.60 189.76V194.16M69.30 189.76h2.6M69.30 194.16h2.6M87.20 193.94V198.33M85.90 193.94h2.6M85.90 198.33h2.6M103.80 201.58V205.98M102.50 201.58h2.6M102.50 205.98h2.6M120.40 207.49V211.89M119.10 207.49h2.6M119.10 211.89h2.6M137.00 211.52V215.92M135.70 211.52h2.6M135.70 215.92h2.6M153.60 214.09V218.49M152.30 214.09h2.6M152.30 218.49h2.6M170.20 215.90V220.30M168.90 215.90h2.6M168.90 220.30h2.6M186.80 215.90V220.30M185.50 215.90h2.6M185.50 220.30h2.6M203.40 215.20V219.60M202.10 215.20h2.6M202.10 219.60h2.6M220.00 213.60V218.00M218.70 213.60h2.6M218.70 218.00h2.6M236.60 214.78V219.18M235.30 214.78h2.6M235.30 219.18h2.6M37.40 209.50V213.90M36.10 209.50h2.6M36.10 213.90h2.6M54.00 192.82V197.22M52.70 192.82h2.6M52.70 197.22h2.6M70.60 193.45V197.85M69.30 193.45h2.6M69.30 197.85h2.6M87.20 192.82V197.22M85.90 192.82h2.6M85.90 197.22h2.6M103.80 200.88V205.28M102.50 200.88h2.6M102.50 205.28h2.6M120.40 203.46V207.86M119.10 203.46h2.6M119.10 207.86h2.6M137.00 206.44V210.84M135.70 206.44h2.6M135.70 210.84h2.6M153.60 206.44V210.84M152.30 206.44h2.6M152.30 210.84h2.6M170.20 210.89V215.29M168.90 210.89h2.6M168.90 215.29h2.6M186.80 212.00V216.40M185.50 212.00h2.6M185.50 216.40h2.6M203.40 212.00V216.40M202.10 212.00h2.6M202.10 216.40h2.6M220.00 210.82V215.22M218.70 210.82h2.6M218.70 215.22h2.6M236.60 214.78V219.18M235.30 214.78h2.6M235.30 219.18h2.6M37.40 203.87V208.27M36.10 203.87h2.6M36.10 208.27h2.6M54.00 194.84V199.24M52.70 194.84h2.6M52.70 199.24h2.6M70.60 190.81V195.21M69.30 190.81h2.6M69.30 195.21h2.6M87.20 191.43V195.83M85.90 191.43h2.6M85.90 195.83h2.6M103.80 197.83V202.23M102.50 197.83h2.6M102.50 202.23h2.6M120.40 201.86V206.26M119.10 201.86h2.6M119.10 206.26h2.6M137.00 205.06V209.45M135.70 205.06h2.6M135.70 209.45h2.6M153.60 202.69V207.09M152.30 202.69h2.6M152.30 207.09h2.6M170.20 203.87V208.27M168.90 203.87h2.6M168.90 208.27h2.6M186.80 206.44V210.84M185.50 206.44h2.6M185.50 210.84h2.6M203.40 208.53V212.93M202.10 208.53h2.6M202.10 212.93h2.6M220.00 205.06V209.45M218.70 205.06h2.6M218.70 209.45h2.6M236.60 215.48V219.88M235.30 215.48h2.6M235.30 219.88h2.6" stroke="#7a7a7a" stroke-width="0.8" fill="none"/>
<polyline points="37.40,200.65 54.00,196.13 70.60,201.00 87.20,208.09 103.80,210.03 120.40,215.11 137.00,218.10 153.60,284.40" stroke="#2e7ad8" stroke-width="1.35" fill="none" stroke-linejoin="round"/>
<rect x="36.00" y="199.25" width="2.8" height="2.8" fill="#1f68c4"/>
<rect x="52.60" y="194.73" width="2.8" height="2.8" fill="#1f68c4"/>
<rect x="69.20" y="199.60" width="2.8" height="2.8" fill="#1f68c4"/>
<rect x="85.80" y="206.69" width="2.8" height="2.8" fill="#1f68c4"/>
<rect x="102.40" y="208.63" width="2.8" height="2.8" fill="#1f68c4"/>
<rect x="119.00" y="213.71" width="2.8" height="2.8" fill="#1f68c4"/>
<rect x="135.60" y="216.70" width="2.8" height="2.8" fill="#1f68c4"/>
<rect x="152.20" y="283.00" width="2.8" height="2.8" fill="#1f68c4"/>
<polyline points="37.40,213.09 54.00,200.03 70.60,205.66 87.20,206.07 103.80,208.09 120.40,212.12 137.00,215.80 153.60,218.10 170.20,220.11 186.80,219.63 203.40,219.63 220.00,219.63 236.60,219.07" stroke="#2fd0e0" stroke-width="1.35" fill="none" stroke-linejoin="round"/>
<rect x="36.00" y="211.69" width="2.8" height="2.8" fill="#1fb8c8"/>
<rect x="52.60" y="198.63" width="2.8" height="2.8" fill="#1fb8c8"/>
<rect x="69.20" y="204.26" width="2.8" height="2.8" fill="#1fb8c8"/>
<rect x="85.80" y="204.67" width="2.8" height="2.8" fill="#1fb8c8"/>
<rect x="102.40" y="206.69" width="2.8" height="2.8" fill="#1fb8c8"/>
<rect x="119.00" y="210.72" width="2.8" height="2.8" fill="#1fb8c8"/>
<rect x="135.60" y="214.40" width="2.8" height="2.8" fill="#1fb8c8"/>
<rect x="152.20" y="216.70" width="2.8" height="2.8" fill="#1fb8c8"/>
<rect x="168.80" y="218.71" width="2.8" height="2.8" fill="#1fb8c8"/>
<rect x="185.40" y="218.23" width="2.8" height="2.8" fill="#1fb8c8"/>
<rect x="202.00" y="218.23" width="2.8" height="2.8" fill="#1fb8c8"/>
<rect x="218.60" y="218.23" width="2.8" height="2.8" fill="#1fb8c8"/>
<rect x="235.20" y="217.67" width="2.8" height="2.8" fill="#1fb8c8"/>
<polyline points="37.40,210.03 54.00,197.59 70.60,191.96 87.20,196.13 103.80,203.78 120.40,209.69 137.00,213.72 153.60,216.29 170.20,218.10 186.80,218.10 203.40,217.40 220.00,215.80 236.60,216.98" stroke="#84d262" stroke-width="1.35" fill="none" stroke-linejoin="round"/>
<rect x="36.00" y="208.63" width="2.8" height="2.8" fill="#6cbf4a"/>
<rect x="52.60" y="196.19" width="2.8" height="2.8" fill="#6cbf4a"/>
<rect x="69.20" y="190.56" width="2.8" height="2.8" fill="#6cbf4a"/>
<rect x="85.80" y="194.73" width="2.8" height="2.8" fill="#6cbf4a"/>
<rect x="102.40" y="202.38" width="2.8" height="2.8" fill="#6cbf4a"/>
<rect x="119.00" y="208.29" width="2.8" height="2.8" fill="#6cbf4a"/>
<rect x="135.60" y="212.32" width="2.8" height="2.8" fill="#6cbf4a"/>
<rect x="152.20" y="214.89" width="2.8" height="2.8" fill="#6cbf4a"/>
<rect x="168.80" y="216.70" width="2.8" height="2.8" fill="#6cbf4a"/>
<rect x="185.40" y="216.70" width="2.8" height="2.8" fill="#6cbf4a"/>
<rect x="202.00" y="216.00" width="2.8" height="2.8" fill="#6cbf4a"/>
<rect x="218.60" y="214.40" width="2.8" height="2.8" fill="#6cbf4a"/>
<rect x="235.20" y="215.58" width="2.8" height="2.8" fill="#6cbf4a"/>
<polyline points="37.40,211.70 54.00,195.02 70.60,195.65 87.20,195.02 103.80,203.08 120.40,205.66 137.00,208.64 153.60,208.64 170.20,213.09 186.80,214.20 203.40,214.20 220.00,213.02 236.60,216.98" stroke="#1f4f8f" stroke-width="1.35" fill="none" stroke-linejoin="round"/>
<rect x="36.00" y="210.30" width="2.8" height="2.8" fill="#173e78"/>
<rect x="52.60" y="193.62" width="2.8" height="2.8" fill="#173e78"/>
<rect x="69.20" y="194.25" width="2.8" height="2.8" fill="#173e78"/>
<rect x="85.80" y="193.62" width="2.8" height="2.8" fill="#173e78"/>
<rect x="102.40" y="201.68" width="2.8" height="2.8" fill="#173e78"/>
<rect x="119.00" y="204.26" width="2.8" height="2.8" fill="#173e78"/>
<rect x="135.60" y="207.24" width="2.8" height="2.8" fill="#173e78"/>
<rect x="152.20" y="207.24" width="2.8" height="2.8" fill="#173e78"/>
<rect x="168.80" y="211.69" width="2.8" height="2.8" fill="#173e78"/>
<rect x="185.40" y="212.80" width="2.8" height="2.8" fill="#173e78"/>
<rect x="202.00" y="212.80" width="2.8" height="2.8" fill="#173e78"/>
<rect x="218.60" y="211.62" width="2.8" height="2.8" fill="#173e78"/>
<rect x="235.20" y="215.58" width="2.8" height="2.8" fill="#173e78"/>
<polyline points="37.40,206.07 54.00,197.04 70.60,193.01 87.20,193.63 103.80,200.03 120.40,204.06 137.00,207.25 153.60,204.89 170.20,206.07 186.80,208.64 203.40,210.73 220.00,207.25 236.60,217.68" stroke="#20908c" stroke-width="1.35" fill="none" stroke-linejoin="round"/>
<rect x="36.00" y="204.67" width="2.8" height="2.8" fill="#176f6f"/>
<rect x="52.60" y="195.64" width="2.8" height="2.8" fill="#176f6f"/>
<rect x="69.20" y="191.61" width="2.8" height="2.8" fill="#176f6f"/>
<rect x="85.80" y="192.23" width="2.8" height="2.8" fill="#176f6f"/>
<rect x="102.40" y="198.63" width="2.8" height="2.8" fill="#176f6f"/>
<rect x="119.00" y="202.66" width="2.8" height="2.8" fill="#176f6f"/>
<rect x="135.60" y="205.85" width="2.8" height="2.8" fill="#176f6f"/>
<rect x="152.20" y="203.49" width="2.8" height="2.8" fill="#176f6f"/>
<rect x="168.80" y="204.67" width="2.8" height="2.8" fill="#176f6f"/>
<rect x="185.40" y="207.24" width="2.8" height="2.8" fill="#176f6f"/>
<rect x="202.00" y="209.33" width="2.8" height="2.8" fill="#176f6f"/>
<rect x="218.60" y="205.85" width="2.8" height="2.8" fill="#176f6f"/>
<rect x="235.20" y="216.28" width="2.8" height="2.8" fill="#176f6f"/>
<circle cx="34.4" cy="200.6" r="1.15" fill="#222"/>
<circle cx="54.2" cy="192.4" r="1.15" fill="#222"/>
<circle cx="70.8" cy="189.2" r="1.15" fill="#222"/>
<circle cx="70.8" cy="209.4" r="1.15" fill="#222"/>
<circle cx="87.3" cy="190.3" r="1.15" fill="#222"/>
<circle cx="103.9" cy="196.9" r="1.15" fill="#222"/>
<circle cx="120.5" cy="201.7" r="1.15" fill="#222"/>
<circle cx="120.5" cy="219.1" r="1.15" fill="#222"/>
<circle cx="137.1" cy="204" r="1.15" fill="#222"/>
<circle cx="153.7" cy="200.1" r="1.15" fill="#222"/>
<circle cx="156" cy="281.5" r="1.15" fill="#222"/>
<circle cx="170.3" cy="202.8" r="1.15" fill="#222"/>
<circle cx="170.3" cy="224.7" r="1.15" fill="#222"/>
<circle cx="186.8" cy="205.5" r="1.15" fill="#222"/>
<circle cx="186.8" cy="225.2" r="1.15" fill="#222"/>
<circle cx="203.4" cy="206.4" r="1.15" fill="#222"/>
<circle cx="220" cy="203.9" r="1.15" fill="#222"/>
<circle cx="236.6" cy="211.6" r="1.15" fill="#222"/>
<text x="95" y="171" class="ti">Neomycin at 2°C</text>
<text x="47.1" y="174" class="ti">(g)</text>
<text transform="translate(9.2,236) rotate(-90)" text-anchor="middle" class="at">STR (%)</text>
<text x="137" y="309.4" text-anchor="middle" class="at">Storage Time (Days)</text>
<path d="M331.7 169.00V284.4M328.7 284.4H541.5v2" stroke="#505050" stroke-width="1.2" fill="none"/>
<text x="324.6" y="287.70" text-anchor="end" class="tl">0</text>
<text x="324.6" y="258.85" text-anchor="end" class="tl">2</text>
<text x="324.6" y="230.00" text-anchor="end" class="tl">4</text>
<text x="324.6" y="201.15" text-anchor="end" class="tl">6</text>
<text x="324.6" y="172.30" text-anchor="end" class="tl">8</text>
<text x="339.90" y="297.1" text-anchor="middle" class="tl">0</text>
<text x="356.01" y="297.1" text-anchor="middle" class="tl">5</text>
<text x="372.12" y="297.1" text-anchor="middle" class="tl">10</text>
<text x="388.23" y="297.1" text-anchor="middle" class="tl">15</text>
<text x="404.34" y="297.1" text-anchor="middle" class="tl">20</text>
<text x="420.45" y="297.1" text-anchor="middle" class="tl">25</text>
<text x="436.56" y="297.1" text-anchor="middle" class="tl">30</text>
<text x="452.67" y="297.1" text-anchor="middle" class="tl">35</text>
<text x="468.78" y="297.1" text-anchor="middle" class="tl">40</text>
<text x="484.89" y="297.1" text-anchor="middle" class="tl">45</text>
<text x="501.00" y="297.1" text-anchor="middle" class="tl">50</text>
<text x="517.11" y="297.1" text-anchor="middle" class="tl">55</text>
<text x="533.22" y="297.1" text-anchor="middle" class="tl">60</text>
<path d="M328.7 284.40H331.7M328.7 255.55H331.7M328.7 226.70H331.7M328.7 197.85H331.7M328.7 169.00H331.7M339.90 284.4V286.4M356.01 284.4V286.4M372.12 284.4V286.4M388.23 284.4V286.4M404.34 284.4V286.4M420.45 284.4V286.4M436.56 284.4V286.4M452.67 284.4V286.4M468.78 284.4V286.4M484.89 284.4V286.4M501.00 284.4V286.4M517.11 284.4V286.4M533.22 284.4V286.4" stroke="#505050" stroke-width="1.2" fill="none"/>
<path d="M339.90 191.03V198.03M338.60 191.03h2.6M338.60 198.03h2.6M356.01 204.88V211.88M354.71 204.88h2.6M354.71 211.88h2.6M372.12 227.59V238.79M370.82 227.59h2.6M370.82 238.79h2.6M388.23 235.09V246.29M386.93 235.09h2.6M386.93 246.29h2.6M404.34 248.36V259.56M403.04 248.36h2.6M403.04 259.56h2.6M420.45 259.04V270.24M419.15 259.04h2.6M419.15 270.24h2.6M436.56 266.25V277.45M435.26 266.25h2.6M435.26 277.45h2.6M339.90 192.91V199.91M338.60 192.91h2.6M338.60 199.91h2.6M356.01 204.88V211.88M354.71 204.88h2.6M354.71 211.88h2.6M372.12 221.18V228.18M370.82 221.18h2.6M370.82 228.18h2.6M388.23 222.19V229.19M386.93 222.19h2.6M386.93 229.19h2.6M404.34 225.36V232.36M403.04 225.36h2.6M403.04 232.36h2.6M420.45 229.55V236.55M419.15 229.55h2.6M419.15 236.55h2.6M436.56 239.07V246.07M435.26 239.07h2.6M435.26 246.07h2.6M452.67 241.95V248.95M451.37 241.95h2.6M451.37 248.95h2.6M468.78 245.85V252.85M467.48 245.85h2.6M467.48 252.85h2.6M484.89 253.93V260.93M483.59 253.93h2.6M483.59 260.93h2.6M501.00 261.14V268.14M499.70 261.14h2.6M499.70 268.14h2.6M517.11 267.77V274.77M515.81 267.77h2.6M515.81 274.77h2.6M533.22 279.17V286.17M531.92 279.17h2.6M531.92 286.17h2.6M339.90 195.07V202.07M338.60 195.07h2.6M338.60 202.07h2.6M356.01 204.45V211.45M354.71 204.45h2.6M354.71 211.45h2.6M372.12 216.28V223.28M370.82 216.28h2.6M370.82 223.28h2.6M388.23 220.03V227.03M386.93 220.03h2.6M386.93 227.03h2.6M404.34 223.06V230.06M403.04 223.06h2.6M403.04 230.06h2.6M420.45 224.64V231.64M419.15 224.64h2.6M419.15 231.64h2.6M436.56 233.87V240.87M435.26 233.87h2.6M435.26 240.87h2.6M452.67 237.34V244.34M451.37 237.34h2.6M451.37 244.34h2.6M468.78 241.09V248.09M467.48 241.09h2.6M467.48 248.09h2.6M484.89 248.16V255.16M483.59 248.16h2.6M483.59 255.16h2.6M501.00 256.81V263.81M499.70 256.81h2.6M499.70 263.81h2.6M517.11 263.16V270.16M515.81 263.16h2.6M515.81 270.16h2.6M533.22 271.81V278.81M531.92 271.81h2.6M531.92 278.81h2.6M339.90 194.35V201.35M338.60 194.35h2.6M338.60 201.35h2.6M356.01 203.73V210.73M354.71 203.73h2.6M354.71 210.73h2.6M372.12 213.39V220.39M370.82 213.39h2.6M370.82 220.39h2.6M388.23 214.83V221.83M386.93 214.83h2.6M386.93 221.83h2.6M404.34 217.29V224.29M403.04 217.29h2.6M403.04 224.29h2.6M420.45 222.33V229.33M419.15 222.33h2.6M419.15 229.33h2.6M436.56 225.36V232.36M435.26 225.36h2.6M435.26 232.36h2.6M452.67 227.53V234.53M451.37 227.53h2.6M451.37 234.53h2.6M468.78 233.30V240.30M467.48 233.30h2.6M467.48 240.30h2.6M484.89 239.07V246.07M483.59 239.07h2.6M483.59 246.07h2.6M501.00 246.71V253.71M499.70 246.71h2.6M499.70 253.71h2.6M517.11 254.50V261.50M515.81 254.50h2.6M515.81 261.50h2.6M533.22 259.70V266.70M531.92 259.70h2.6M531.92 266.70h2.6M339.90 193.63V200.63M338.60 193.63h2.6M338.60 200.63h2.6M356.01 202.86V209.86M354.71 202.86h2.6M354.71 209.86h2.6M372.12 204.45V211.45M370.82 204.45h2.6M370.82 211.45h2.6M388.23 206.18V213.18M386.93 206.18h2.6M386.93 213.18h2.6M404.34 208.77V215.77M403.04 208.77h2.6M403.04 215.77h2.6M420.45 216.13V223.13M419.15 216.13h2.6M419.15 223.13h2.6M436.56 223.06V230.06M435.26 223.06h2.6M435.26 230.06h2.6M452.67 225.80V232.80M451.37 225.80h2.6M451.37 232.80h2.6M468.78 227.53V234.53M467.48 227.53h2.6M467.48 234.53h2.6M484.89 234.45V241.45M483.59 234.45h2.6M483.59 241.45h2.6M501.00 241.95V248.95M499.70 241.95h2.6M499.70 248.95h2.6M517.11 249.60V256.60M515.81 249.60h2.6M515.81 256.60h2.6M533.22 253.93V260.93M531.92 253.93h2.6M531.92 260.93h2.6" stroke="#7a7a7a" stroke-width="0.8" fill="none"/>
<polyline points="339.90,194.53 356.01,208.38 372.12,233.19 388.23,240.69 404.34,253.96 420.45,264.64 436.56,271.85 452.67,284.40" stroke="#2e7ad8" stroke-width="1.35" fill="none" stroke-linejoin="round"/>
<rect x="338.50" y="193.13" width="2.8" height="2.8" fill="#1f68c4"/>
<rect x="354.61" y="206.98" width="2.8" height="2.8" fill="#1f68c4"/>
<rect x="370.72" y="231.79" width="2.8" height="2.8" fill="#1f68c4"/>
<rect x="386.83" y="239.29" width="2.8" height="2.8" fill="#1f68c4"/>
<rect x="402.94" y="252.56" width="2.8" height="2.8" fill="#1f68c4"/>
<rect x="419.05" y="263.24" width="2.8" height="2.8" fill="#1f68c4"/>
<rect x="435.16" y="270.45" width="2.8" height="2.8" fill="#1f68c4"/>
<rect x="451.27" y="283.00" width="2.8" height="2.8" fill="#1f68c4"/>
<polyline points="339.90,196.41 356.01,208.38 372.12,224.68 388.23,225.69 404.34,228.86 420.45,233.05 436.56,242.57 452.67,245.45 468.78,249.35 484.89,257.43 501.00,264.64 517.11,271.27 533.22,282.67" stroke="#2fd0e0" stroke-width="1.35" fill="none" stroke-linejoin="round"/>
<rect x="338.50" y="195.01" width="2.8" height="2.8" fill="#1fb8c8"/>
<rect x="354.61" y="206.98" width="2.8" height="2.8" fill="#1fb8c8"/>
<rect x="370.72" y="223.28" width="2.8" height="2.8" fill="#1fb8c8"/>
<rect x="386.83" y="224.29" width="2.8" height="2.8" fill="#1fb8c8"/>
<rect x="402.94" y="227.46" width="2.8" height="2.8" fill="#1fb8c8"/>
<rect x="419.05" y="231.65" width="2.8" height="2.8" fill="#1fb8c8"/>
<rect x="435.16" y="241.17" width="2.8" height="2.8" fill="#1fb8c8"/>
<rect x="451.27" y="244.05" width="2.8" height="2.8" fill="#1fb8c8"/>
<rect x="467.38" y="247.95" width="2.8" height="2.8" fill="#1fb8c8"/>
<rect x="483.49" y="256.03" width="2.8" height="2.8" fill="#1fb8c8"/>
<rect x="499.60" y="263.24" width="2.8" height="2.8" fill="#1fb8c8"/>
<rect x="515.71" y="269.87" width="2.8" height="2.8" fill="#1fb8c8"/>
<rect x="531.82" y="281.27" width="2.8" height="2.8" fill="#1fb8c8"/>
<polyline points="339.90,198.57 356.01,207.95 372.12,219.78 388.23,223.53 404.34,226.56 420.45,228.14 436.56,237.37 452.67,240.84 468.78,244.59 484.89,251.66 501.00,260.31 517.11,266.66 533.22,275.31" stroke="#84d262" stroke-width="1.35" fill="none" stroke-linejoin="round"/>
<rect x="338.50" y="197.17" width="2.8" height="2.8" fill="#6cbf4a"/>
<rect x="354.61" y="206.55" width="2.8" height="2.8" fill="#6cbf4a"/>
<rect x="370.72" y="218.38" width="2.8" height="2.8" fill="#6cbf4a"/>
<rect x="386.83" y="222.13" width="2.8" height="2.8" fill="#6cbf4a"/>
<rect x="402.94" y="225.16" width="2.8" height="2.8" fill="#6cbf4a"/>
<rect x="419.05" y="226.74" width="2.8" height="2.8" fill="#6cbf4a"/>
<rect x="435.16" y="235.97" width="2.8" height="2.8" fill="#6cbf4a"/>
<rect x="451.27" y="239.44" width="2.8" height="2.8" fill="#6cbf4a"/>
<rect x="467.38" y="243.19" width="2.8" height="2.8" fill="#6cbf4a"/>
<rect x="483.49" y="250.26" width="2.8" height="2.8" fill="#6cbf4a"/>
<rect x="499.60" y="258.91" width="2.8" height="2.8" fill="#6cbf4a"/>
<rect x="515.71" y="265.26" width="2.8" height="2.8" fill="#6cbf4a"/>
<rect x="531.82" y="273.91" width="2.8" height="2.8" fill="#6cbf4a"/>
<polyline points="339.90,197.85 356.01,207.23 372.12,216.89 388.23,218.33 404.34,220.79 420.45,225.83 436.56,228.86 452.67,231.03 468.78,236.80 484.89,242.57 501.00,250.21 517.11,258.00 533.22,263.20" stroke="#1f4f8f" stroke-width="1.35" fill="none" stroke-linejoin="round"/>
<rect x="338.50" y="196.45" width="2.8" height="2.8" fill="#173e78"/>
<rect x="354.61" y="205.83" width="2.8" height="2.8" fill="#173e78"/>
<rect x="370.72" y="215.49" width="2.8" height="2.8" fill="#173e78"/>
<rect x="386.83" y="216.93" width="2.8" height="2.8" fill="#173e78"/>
<rect x="402.94" y="219.39" width="2.8" height="2.8" fill="#173e78"/>
<rect x="419.05" y="224.43" width="2.8" height="2.8" fill="#173e78"/>
<rect x="435.16" y="227.46" width="2.8" height="2.8" fill="#173e78"/>
<rect x="451.27" y="229.63" width="2.8" height="2.8" fill="#173e78"/>
<rect x="467.38" y="235.40" width="2.8" height="2.8" fill="#173e78"/>
<rect x="483.49" y="241.17" width="2.8" height="2.8" fill="#173e78"/>
<rect x="499.60" y="248.81" width="2.8" height="2.8" fill="#173e78"/>
<rect x="515.71" y="256.60" width="2.8" height="2.8" fill="#173e78"/>
<rect x="531.82" y="261.80" width="2.8" height="2.8" fill="#173e78"/>
<polyline points="339.90,197.13 356.01,206.36 372.12,207.95 388.23,209.68 404.34,212.27 420.45,219.63 436.56,226.56 452.67,229.30 468.78,231.03 484.89,237.95 501.00,245.45 517.11,253.10 533.22,257.43" stroke="#20908c" stroke-width="1.35" fill="none" stroke-linejoin="round"/>
<rect x="338.50" y="195.73" width="2.8" height="2.8" fill="#176f6f"/>
<rect x="354.61" y="204.96" width="2.8" height="2.8" fill="#176f6f"/>
<rect x="370.72" y="206.55" width="2.8" height="2.8" fill="#176f6f"/>
<rect x="386.83" y="208.28" width="2.8" height="2.8" fill="#176f6f"/>
<rect x="402.94" y="210.87" width="2.8" height="2.8" fill="#176f6f"/>
<rect x="419.05" y="218.23" width="2.8" height="2.8" fill="#176f6f"/>
<rect x="435.16" y="225.16" width="2.8" height="2.8" fill="#176f6f"/>
<rect x="451.27" y="227.90" width="2.8" height="2.8" fill="#176f6f"/>
<rect x="467.38" y="229.63" width="2.8" height="2.8" fill="#176f6f"/>
<rect x="483.49" y="236.55" width="2.8" height="2.8" fill="#176f6f"/>
<rect x="499.60" y="244.05" width="2.8" height="2.8" fill="#176f6f"/>
<rect x="515.71" y="251.70" width="2.8" height="2.8" fill="#176f6f"/>
<rect x="531.82" y="256.03" width="2.8" height="2.8" fill="#176f6f"/>
<circle cx="340" cy="189.3" r="1.15" fill="#222"/>
<circle cx="356.1" cy="200.2" r="1.15" fill="#222"/>
<circle cx="372.2" cy="200.6" r="1.15" fill="#222"/>
<circle cx="375" cy="222.9" r="1.15" fill="#222"/>
<circle cx="388.3" cy="205.7" r="1.15" fill="#222"/>
<circle cx="391.6" cy="229.3" r="1.15" fill="#222"/>
<circle cx="404.4" cy="207.5" r="1.15" fill="#222"/>
<circle cx="407.7" cy="231.9" r="1.15" fill="#222"/>
<circle cx="420.5" cy="214.8" r="1.15" fill="#222"/>
<circle cx="420.5" cy="239.3" r="1.15" fill="#222"/>
<circle cx="436.6" cy="218.8" r="1.15" fill="#222"/>
<circle cx="456.3" cy="227" r="1.15" fill="#222"/>
<circle cx="468.8" cy="224.3" r="1.15" fill="#222"/>
<circle cx="484.9" cy="232" r="1.15" fill="#222"/>
<circle cx="501" cy="238.6" r="1.15" fill="#222"/>
<circle cx="517.1" cy="245.7" r="1.15" fill="#222"/>
<circle cx="533.2" cy="250.9" r="1.15" fill="#222"/>
<circle cx="471.4" cy="245" r="1.15" fill="#222"/>
<circle cx="484.9" cy="252" r="1.15" fill="#222"/>
<circle cx="502.3" cy="259.4" r="1.15" fill="#222"/>
<circle cx="519.4" cy="265" r="1.15" fill="#222"/>
<circle cx="534.9" cy="274.9" r="1.15" fill="#222"/>
<circle cx="404.4" cy="246.3" r="1.15" fill="#222"/>
<circle cx="420.5" cy="258.6" r="1.15" fill="#222"/>
<circle cx="436.6" cy="265.7" r="1.15" fill="#222"/>
<circle cx="454" cy="280" r="1.15" fill="#222"/>
<circle cx="374.6" cy="231" r="1.15" fill="#222"/>
<circle cx="390.3" cy="239" r="1.15" fill="#222"/>
<text x="398.7" y="170.9" class="ti">Neomycin at 2°C</text>
<text x="535.5" y="174.5" class="ti">(h)</text>
<text transform="translate(315.2,226.2) rotate(-90)" text-anchor="middle" class="at">Duration motility (%)</text>
<text x="436.5" y="309.9" text-anchor="middle" class="at">Storage Time (Days)</text>
<path d="M195.6 13.20H211.6" stroke="#2e7ad8" stroke-width="1.1"/>
<circle cx="203.5" cy="13.20" r="1.3" fill="#1f68c4"/>
<text x="213" y="15.30" class="lg">0 mg/L</text>
<path d="M195.6 23.25H211.6" stroke="#2fd0e0" stroke-width="1.1"/>
<circle cx="203.5" cy="23.25" r="1.3" fill="#1fb8c8"/>
<text x="213" y="25.35" class="lg">100 mg/L</text>
<path d="M195.6 33.30H211.6" stroke="#84d262" stroke-width="1.1"/>
<circle cx="203.5" cy="33.30" r="1.3" fill="#6cbf4a"/>
<text x="213" y="35.40" class="lg">200 mg/L</text>
<path d="M195.6 43.35H211.6" stroke="#1f4f8f" stroke-width="1.1"/>
<circle cx="203.5" cy="43.35" r="1.3" fill="#173e78"/>
<text x="213" y="45.45" class="lg">400 mg/L</text>
<path d="M195.6 53.40H211.6" stroke="#20908c" stroke-width="1.1"/>
<circle cx="203.5" cy="53.40" r="1.3" fill="#176f6f"/>
<text x="213" y="55.50" class="lg">800 mg/L</text>
</svg></body></html>
